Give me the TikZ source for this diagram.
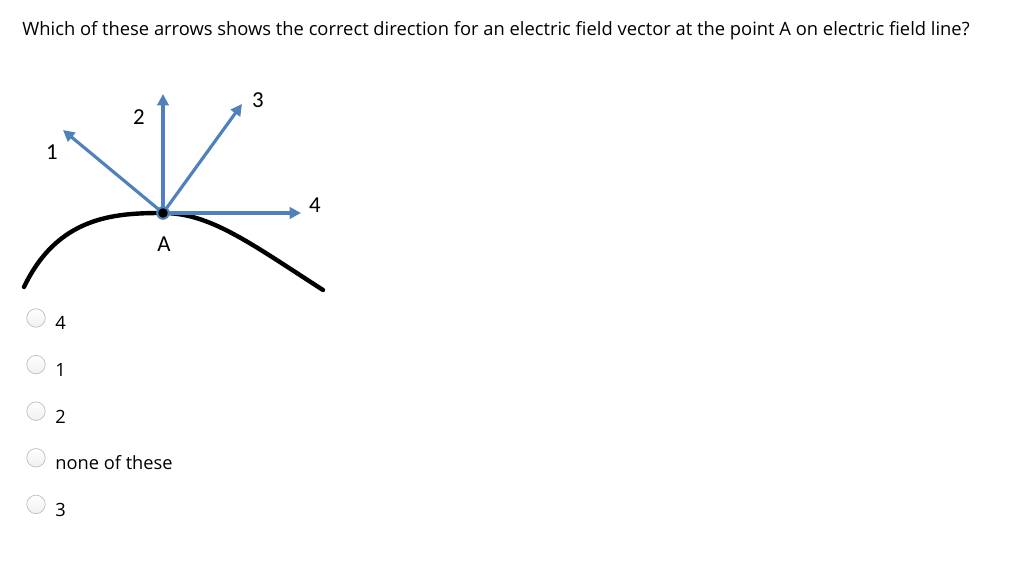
\documentclass[tikz,border=0pt]{standalone}
\usepackage{fontspec}
\setmainfont{Open Sans}
\newfontfamily\labelfont{Carlito}
\usetikzlibrary{arrows.meta}
\usetikzlibrary{math}

\definecolor{vecblue}{RGB}{79,129,189}

\begin{document}
\begin{tikzpicture}[x=0.02cm, y=-0.02cm,
    fieldvec/.style={draw=vecblue, line width=1.8pt, -{Triangle[length=6.5pt,width=6.5pt]}},
    fieldline/.style={line width=2.5pt, line cap=round},
    veclabel/.style={font=\labelfont\fontsize{13}{15}\selectfont},
    radio/.style={circle, draw=black!25, inner sep=0pt, minimum size=0.37cm, top color=white, bottom color=black!6},
    optlabel/.style={anchor=base west, inner sep=0pt, font=\fontsize{10.4}{12}\selectfont}]
  \useasboundingbox (0,0) rectangle (1024,563);
          \tikzmath{
            \ax=163;
            \ay=213;
            \firsty=318;
            \stepy=46.6;}
  \node[anchor=base west, inner sep=0pt, font=\fontsize{10.45}{12}\selectfont] (question) at (22,36)
    {Which of these arrows shows the correct direction for an electric field vector at the point A on electric field line?};
          \coordinate (A) at (\ax,\ay);
          \coordinate (t1) at (63,130);
          \coordinate (t2) at (163,94);
          \coordinate (t3) at (242,104);
          \coordinate (t4) at (301,213);
          \draw[fieldline] (24,287) .. controls (58,216) and (115,213) .. (A)
                           .. controls (210,213) and (250,243) .. (323,290);
          \draw[fieldvec] (A) -- (t1);
          \draw[fieldvec] (A) -- (t2);
          \draw[fieldvec] (A) -- (t3);
          \draw[fieldvec] (A) -- (t4);
          \node[circle, fill=black, draw=vecblue, line width=1.2pt, inner sep=0pt, minimum size=0.23cm] (dotA) at (A) {};
          \node[veclabel] (lab1) at (52,152) {1};
          \node[veclabel] (lab2) at (139,117) {2};
          \node[veclabel] (lab3) at (258,100) {3};
          \node[veclabel] (lab4) at (315,205) {4};
          \node[veclabel] (labA) at (164,244) {A};
  % answer choices
  \foreach \txt [count=\i] in {4,1,2,none of these,3} {
    \node[radio] (radio\i) at (36,{\firsty+(\i-1)*\stepy}) {};
    \node[optlabel] (opt\i) at (55,{\firsty+12+(\i-1)*\stepy}) {\txt};
  }
\end{tikzpicture}
\end{document}
